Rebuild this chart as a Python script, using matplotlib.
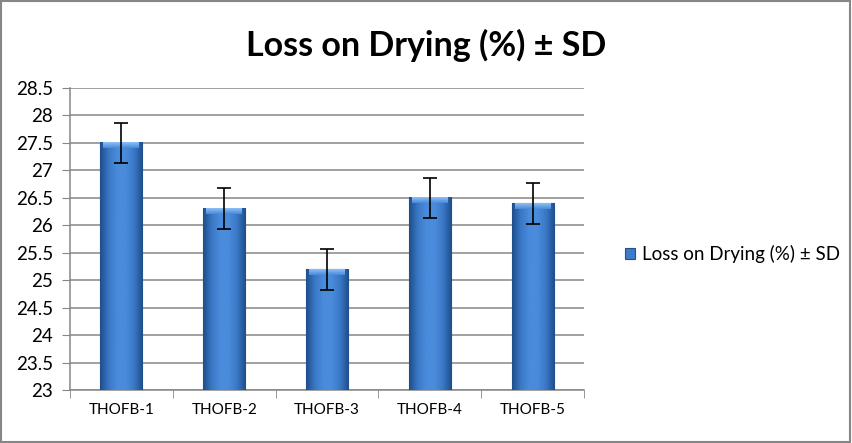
import matplotlib.pyplot as plt
import numpy as np
from matplotlib.patches import Rectangle
from matplotlib.colors import LinearSegmentedColormap

plt.rcParams['font.family'] = ['Lato', 'DejaVu Sans']

# data
categories = ["THOFB-1", "THOFB-2", "THOFB-3", "THOFB-4", "THOFB-5"]
loss_pct = [27.5, 26.3, 25.2, 26.5, 26.4]
loss_sd = [0.37, 0.37, 0.37, 0.37, 0.37]
y_ticks = [23, 23.5, 24, 24.5, 25, 25.5, 26, 26.5, 27, 27.5, 28, 28.5]

series_name = "Loss on Drying (%) \u00b1 SD"
grid_grey = '#868686'

fig = plt.figure(figsize=(8.52, 4.43), dpi=100)
ax = fig.add_axes([70/852, 1 - 390/443, 514/852, 302/443])

x = np.arange(len(categories))
width = 0.41
ymin, ymax = 23, 28.5

# bars: flat face for legend, then a shaded gradient drawn on top
bars = ax.bar(x, np.array(loss_pct) - ymin, bottom=ymin, width=width,
              color='#3D7BCB', edgecolor='#23508C', linewidth=0.8,
              label=series_name, zorder=2)

shade = LinearSegmentedColormap.from_list(
    'bevel', ['#1F4E8C', '#3A78C6', '#4A8BDB', '#4A8BDB', '#3A78C6', '#1F4E8C'])
grad = np.linspace(0, 1, 64).reshape(1, -1)
top_shade = LinearSegmentedColormap.from_list('top', ['#4A8BDB', '#8CC0F5'])
for xi, val in zip(x, loss_pct):
    ax.imshow(grad, cmap=shade, aspect='auto', zorder=3,
              extent=(xi - width/2, xi + width/2, ymin, val))
    # lighter bevel at the top
    ax.imshow(np.linspace(0, 1, 16).reshape(-1, 1)[::-1], cmap=top_shade,
              aspect='auto', zorder=4,
              extent=(xi - width/2 + 0.03, xi + width/2 - 0.03, val - 0.1, val))

ax.errorbar(x, loss_pct, yerr=loss_sd, fmt='none', ecolor='black',
            elinewidth=1.2, capsize=5, capthick=1.2, zorder=5)

ax.set_xlim(-0.5, len(categories) - 0.5)
ax.set_ylim(ymin, ymax)
ax.set_yticks(y_ticks)
ax.set_yticklabels([f"{t:g}" for t in y_ticks])
ax.set_xticks(x)
ax.set_xticklabels(categories)
ax.set_xticks(np.arange(len(categories) + 1) - 0.5, minor=True)
ax.tick_params(axis='x', which='major', length=0, labelsize=11, pad=9)
ax.tick_params(axis='x', which='minor', length=6, color=grid_grey)
ax.tick_params(axis='y', length=6, color=grid_grey, labelsize=13.5, pad=6)

ax.yaxis.grid(True, color=grid_grey, linewidth=1.1)
ax.set_axisbelow(True)
for side in ['top', 'right']:
    ax.spines[side].set_visible(False)
for side in ['left', 'bottom']:
    ax.spines[side].set_color(grid_grey)
    ax.spines[side].set_linewidth(1.1)

fig.text(426/852, 1 - 45/443, series_name, ha='center', va='center',
         fontsize=24.5, fontweight='bold')

leg = fig.legend(handles=[bars], labels=[series_name], loc='center left',
                 bbox_to_anchor=(608/852, 1 - 254/443), frameon=False,
                 fontsize=13.5, handlelength=0.55, handleheight=0.55,
                 handletextpad=0.35)

# outer frame of the chart area
fig.patches.append(Rectangle((0.001, 0.002), 0.997, 0.995, transform=fig.transFigure,
                             fill=False, edgecolor=grid_grey, linewidth=1.5))

fig.savefig('out.png', dpi=100)
